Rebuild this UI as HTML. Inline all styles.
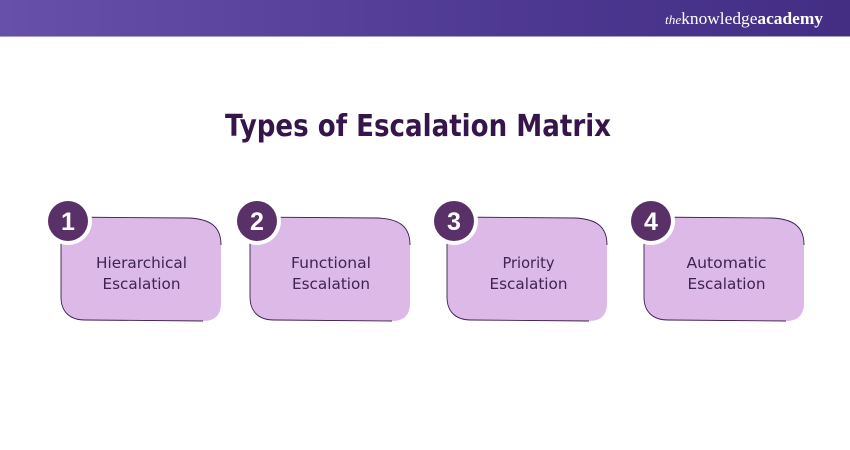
<!DOCTYPE html>
<html>
<head>
<meta charset="utf-8">
<style>
html,body{margin:0;padding:0;background:#fff}
svg{display:block}
text{font-family:"DejaVu Sans",sans-serif}
.l{font-size:15px;fill:#3f2352;text-anchor:middle}
.n{font-family:"Liberation Sans",sans-serif;font-size:25px;font-weight:bold;fill:#fff;text-anchor:middle}
</style>
</head>
<body>
<svg width="850" height="450" viewBox="0 0 850 450" xmlns="http://www.w3.org/2000/svg">
<defs>
<linearGradient id="g" x1="0" x2="1" y1="0" y2="0">
<stop offset="0" stop-color="#6750a9"/>
<stop offset="0.55" stop-color="#4f3a94"/>
<stop offset="1" stop-color="#432e84"/>
</linearGradient>
<g id="card">
<path d="M0 0 L128 1 C150 2 160 10 160 28 L160 86 C160 98 154 104 142 104 L24 103 C8 103 0 94 0 80 L0 0 Z" fill="#dcb9e6"/>
<path d="M0 0 L128 1 C150 2 160 10 160 28" fill="none" stroke="#3a1f4f" stroke-width="0.9"/>
<path d="M142 104 L24 103 C8 103 0 94 0 80 L0 0" fill="none" stroke="#3a1f4f" stroke-width="0.9"/>
</g>
</defs>
<rect width="850" height="450" fill="#fff"/>
<rect width="850" height="36" fill="url(#g)"/>
<rect y="36" width="850" height="1" fill="#a79cc8"/>
<text x="665" y="24" textLength="158" lengthAdjust="spacingAndGlyphs" style="font-family:'Liberation Serif',serif;font-size:17px;fill:#fff"><tspan font-style="italic" font-size="13">the</tspan>knowledge<tspan font-weight="bold">academy</tspan></text>

<text x="225" y="136" textLength="386" lengthAdjust="spacingAndGlyphs" style="font-size:30px;font-weight:bold;fill:#36154b">Types of Escalation Matrix</text>

<use href="#card" x="61" y="217"/>
<use href="#card" x="250" y="217"/>
<use href="#card" x="447" y="217"/>
<use href="#card" x="644" y="217"/>

<circle cx="68" cy="221" r="24" fill="#fff"/>
<circle cx="68" cy="221" r="20" fill="#5a3068"/>
<circle cx="257" cy="221" r="24" fill="#fff"/>
<circle cx="257" cy="221" r="20" fill="#5a3068"/>
<circle cx="454" cy="221" r="24" fill="#fff"/>
<circle cx="454" cy="221" r="20" fill="#5a3068"/>
<circle cx="651" cy="221" r="24" fill="#fff"/>
<circle cx="651" cy="221" r="20" fill="#5a3068"/>

<text class="n" x="68" y="230">1</text>
<text class="n" x="257" y="230">2</text>
<text class="n" x="454" y="230">3</text>
<text class="n" x="651" y="230">4</text>

<text class="l" x="141.500" y="268" textLength="91" lengthAdjust="spacingAndGlyphs">Hierarchical</text>
<text class="l" x="141.500" y="289" textLength="78" lengthAdjust="spacingAndGlyphs">Escalation</text>
<text class="l" x="331" y="268" textLength="80" lengthAdjust="spacingAndGlyphs">Functional</text>
<text class="l" x="331" y="289" textLength="78" lengthAdjust="spacingAndGlyphs">Escalation</text>
<text class="l" x="528.500" y="268" textLength="52" lengthAdjust="spacingAndGlyphs">Priority</text>
<text class="l" x="528.500" y="289" textLength="78" lengthAdjust="spacingAndGlyphs">Escalation</text>
<text class="l" x="726.500" y="268" textLength="80" lengthAdjust="spacingAndGlyphs">Automatic</text>
<text class="l" x="726.500" y="289" textLength="78" lengthAdjust="spacingAndGlyphs">Escalation</text>
</svg>
</body>
</html>
